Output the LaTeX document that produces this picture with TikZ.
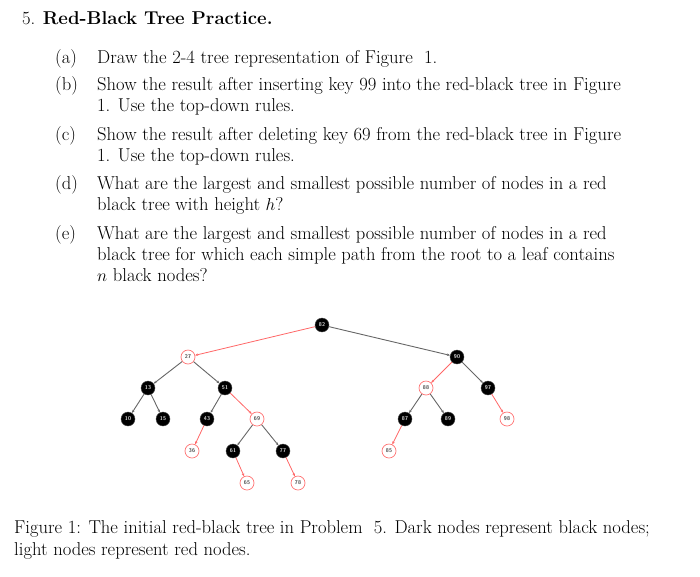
\documentclass[tikz,border=0pt]{standalone}
\usetikzlibrary{arrows.meta}
\begin{document}
\begin{tikzpicture}[x=1pt,y=-1pt,
 txt/.style={anchor=base west,inner sep=0pt,font=\fontsize{18.6}{21}\selectfont},
 bn/.style={circle,fill=black,draw=black!70,minimum size=14pt,inner sep=0pt,text=white!85!black,font=\fontsize{5.5}{6}\selectfont\bfseries\sffamily},
 rn/.style={circle,fill=white,draw=red!55,line width=0.7pt,minimum size=14pt,inner sep=0pt,text=black!70,font=\fontsize{5.5}{6}\selectfont\bfseries\sffamily},
 be/.style={draw=black!60,line width=0.9pt,-{Stealth[length=3pt,width=2.5pt]}},
 re/.style={draw=red!60,line width=0.8pt,-{Stealth[length=3pt,width=2.5pt]}}]
\useasboundingbox (0,0) rectangle (700,576);
\node[txt] (t) at (22,24) {5. \textbf{Red-Black Tree Practice.}};
\node[txt] (la) at (55,63) {(a)}; \node[txt] (a1) at (97,63) {Draw the 2-4 tree representation of Figure\ \ 1.};
\node[txt] (lb) at (55,90) {(b)}; \node[txt] (b1) at (97,90) {Show the result after inserting key 99 into the red-black tree in Figure};
\node[txt] (b2) at (97,111) {1. Use the top-down rules.};
\node[txt] (lc) at (55,140) {(c)}; \node[txt] (c1) at (97,140) {Show the result after deleting key 69 from the red-black tree in Figure};
\node[txt] (c2) at (97,161) {1. Use the top-down rules.};
\node[txt] (ld) at (55,189) {(d)}; \node[txt] (d1) at (97,189) {What are the largest and smallest possible number of nodes in a red};
\node[txt] (d2) at (97,210) {black tree with height $h$?};
\node[txt] (le) at (55,239) {(e)}; \node[txt] (e1) at (97,239) {What are the largest and smallest possible number of nodes in a red};
\node[txt] (e2) at (97,260) {black tree for which each simple path from the root to a leaf contains};
\node[txt] (e3) at (97,281) {$n$ black nodes?};
\node[txt] (f1) at (14,533) {Figure 1: The initial red-black tree in Problem\ \ 5. Dark nodes represent black nodes;};
\node[txt] (f2) at (14,555) {light nodes represent red nodes.};
\node[bn] (n82) at (322,325) {82};
\node[rn] (n27) at (188,357) {27};
\node[bn] (n90) at (457,357) {90};
\node[bn] (n13) at (148,388) {13};
\node[bn] (n51) at (225,388) {51};
\node[rn] (n88) at (426,388) {88};
\node[bn] (n97) at (488,388) {97};
\node[bn] (n10) at (128,419) {10};
\node[bn] (n15) at (163,419) {15};
\node[bn] (n43) at (207,419) {43};
\node[rn] (n69) at (257,419) {69};
\node[bn] (n87) at (405,419) {87};
\node[bn] (n89) at (448,419) {89};
\node[rn] (n98) at (507,419) {98};
\node[rn] (n36) at (192,451) {36};
\node[bn] (n61) at (233,451) {61};
\node[bn] (n77) at (283,451) {77};
\node[rn] (n85) at (389,451) {85};
\node[rn] (n65) at (247,483) {65};
\node[rn] (n78) at (298,483) {78};
\draw[re] (n82)--(n27); \draw[be] (n82)--(n90);
\draw[be] (n27)--(n13); \draw[be] (n27)--(n51);
\draw[re] (n90)--(n88); \draw[be] (n90)--(n97);
\draw[be] (n13)--(n10); \draw[be] (n13)--(n15);
\draw[be] (n51)--(n43); \draw[re] (n51)--(n69);
\draw[be] (n88)--(n87); \draw[be] (n88)--(n89);
\draw[re] (n97)--(n98);
\draw[re] (n43)--(n36);
\draw[be] (n69)--(n61); \draw[be] (n69)--(n77);
\draw[re] (n87)--(n85);
\draw[re] (n61)--(n65); \draw[re] (n77)--(n78);
\end{tikzpicture}
\end{document}
